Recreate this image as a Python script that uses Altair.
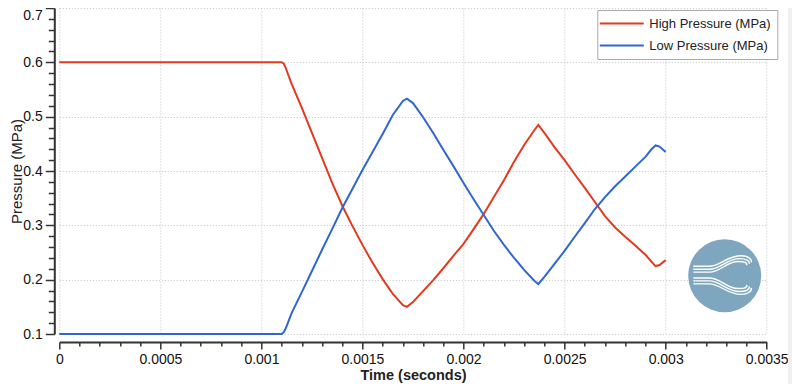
import altair as alt
import pandas as pd

# ---- data ----
time_s = [0, 0.00110, 0.00111, 0.00112, 0.00115, 0.00120, 0.00125, 0.00130, 0.00135,
          0.00140, 0.00145, 0.00150, 0.00155, 0.00160, 0.00165, 0.00170, 0.00172,
          0.00175, 0.00180, 0.00185, 0.00190, 0.00195, 0.00200, 0.00205, 0.00210,
          0.00215, 0.00220, 0.00225, 0.00230, 0.00235, 0.00237, 0.00240, 0.00245,
          0.00250, 0.00255, 0.00260, 0.00265, 0.00270, 0.00275, 0.00280, 0.00285,
          0.00290, 0.00293, 0.00295, 0.00297, 0.00300]
high_mpa = [0.600, 0.600, 0.598, 0.590, 0.560, 0.516, 0.470, 0.424, 0.378,
            0.336, 0.299, 0.264, 0.231, 0.201, 0.174, 0.153, 0.150,
            0.159, 0.179, 0.199, 0.221, 0.244, 0.266, 0.293, 0.321,
            0.352, 0.383, 0.417, 0.448, 0.475, 0.485, 0.470, 0.444,
            0.420, 0.394, 0.369, 0.343, 0.317, 0.296, 0.279, 0.263,
            0.246, 0.233, 0.225, 0.227, 0.236]
low_mpa = [0.100, 0.100, 0.103, 0.110, 0.139, 0.177, 0.216, 0.255, 0.293,
           0.332, 0.367, 0.402, 0.435, 0.468, 0.503, 0.529, 0.533,
           0.525, 0.499, 0.470, 0.439, 0.409, 0.378, 0.348, 0.319,
           0.290, 0.264, 0.240, 0.218, 0.198, 0.192, 0.205, 0.229,
           0.253, 0.279, 0.304, 0.330, 0.352, 0.372, 0.390, 0.408,
           0.426, 0.440, 0.447, 0.445, 0.435]
series_names = ["High Pressure (MPa)", "Low Pressure (MPa)"]
series_colors = ["#e33a1d", "#2f66cf"]

x_tick_values = [round(i * 0.0001, 4) for i in range(36)]
y_tick_values = [round(0.1 + i * 0.02, 2) for i in range(31)]

n = len(time_s)
df = pd.DataFrame({
    "t": time_s * 2,
    "p": high_mpa + low_mpa,
    "series": [series_names[0]] * n + [series_names[1]] * n,
    "idx": list(range(n)) * 2,
})

W, H = 707.4, 326
PAD_L, PAD_T, PAD_R, PAD_B = 51.3, 0, 25.3, 50

FONT = "Liberation Sans"
AX = "#333333"
major_x = "abs(datum.value*2000 - round(datum.value*2000)) < 1e-6"
major_y = "abs(datum.value*10 - round(datum.value*10)) < 1e-6"

x_axis = alt.Axis(
    values=x_tick_values,
    title="Time (seconds)",
    labelExpr=f"({major_x}) ? format(datum.value, '~g') : ''",
    labelFlush=False,
    labelOverlap=False,
    labelFont=FONT, labelFontSize=14, labelColor="#111111", labelPadding=3,
    titleFont=FONT, titleFontSize=14.5, titleFontWeight="bold", titleColor="#222222",
    titlePadding=2,
    tickSize={"condition": {"test": major_x, "value": 7}, "value": 4},
    tickColor=AX, tickWidth=1.5,
    domainColor=AX, domainWidth=2,
    grid=True, gridColor="#c4c4c4", gridDash=[1, 2], gridWidth=1,
    gridOpacity={"condition": {"test": major_x, "value": 1}, "value": 0},
    offset=8,
)
y_axis = alt.Axis(
    values=y_tick_values,
    title="Pressure (MPa)",
    labelExpr=f"({major_y}) ? format(datum.value, '~g') : ''",
    labelFlush=False,
    labelOverlap=False,
    labelBaseline={"condition": {"test": "datum.value > 0.69", "value": "top"}, "value": "middle"},
    labelFont=FONT, labelFontSize=14, labelColor="#111111", labelPadding=3,
    titleFont=FONT, titleFontSize=15, titleFontWeight="normal", titleColor="#222222",
    titlePadding=-2,
    tickSize={"condition": {"test": major_y, "value": 9}, "value": 6},
    tickColor=AX, tickWidth=1.5,
    domainColor=AX, domainWidth=2,
    grid=True, gridColor="#c4c4c4", gridDash=[1, 2], gridWidth=1,
    gridOpacity={"condition": {"test": major_y, "value": 1}, "value": 0},
    offset=5,
)

legend = alt.Legend(
    title=None, orient="none", legendX=538, legendY=2,
    symbolType="M-1.8,0H5.4", symbolSize=149, symbolStrokeWidth=2,
    labelFont=FONT, labelFontSize=13, labelColor="#222222", labelOffset=31,
    labelLimit=300,
    padding=6, rowPadding=7,
    strokeColor="#a8a8a8", fillColor="white", cornerRadius=0,
)

lines = alt.Chart(df).mark_line(strokeWidth=2, clip=False).encode(
    x=alt.X("t:Q", scale=alt.Scale(domain=[0, 0.0035], nice=False, zero=False), axis=x_axis),
    y=alt.Y("p:Q", scale=alt.Scale(domain=[0.1, 0.7], nice=False, zero=False), axis=y_axis),
    color=alt.Color("series:N", scale=alt.Scale(domain=series_names, range=series_colors),
                    legend=legend),
    order="idx:Q",
)

one = pd.DataFrame({"k": [0]})

# decorative logo (circle with flow lines)
top_lines = [(-0.26, 0.46, -0.55, 0.73, -0.37),
             (-0.18, 0.41, -0.47, 0.67, -0.33),
             (-0.10, 0.37, -0.39, 0.60, -0.29)]
segs = []
for y0, cx, cy, ex, ey in top_lines:
    for s in (1, -1):
        def fy(v):
            return v if s == 1 else -0.04 - v
        segs.append(
            f"M-0.86,{fy(y0):.3f}H-0.42C-0.12,{fy(y0):.3f} 0.05,{fy(cy):.3f} {cx},{fy(cy):.3f}"
            f"C{cx + 0.18:.3f},{fy(cy):.3f} {ex + 0.02:.3f},{fy(ey - 0.08):.3f} {ex},{fy(ey):.3f}"
        )
wave_path = "".join(segs)

LOGO_X, LOGO_Y, LOGO_SIZE = 665.4, 267.8, 5329
logo_circle = alt.Chart(one).mark_point(
    shape="circle", filled=True, color="#7fa6bf", opacity=1, size=LOGO_SIZE
).encode(x=alt.value(LOGO_X), y=alt.value(LOGO_Y))
logo_waves = alt.Chart(one).mark_point(
    shape=wave_path, filled=False, stroke="white", strokeWidth=1.4, opacity=1, size=LOGO_SIZE
).encode(x=alt.value(LOGO_X), y=alt.value(LOGO_Y))

side_strip = alt.Chart(one).mark_rect(color="#f0f0f0").encode(
    x=alt.value(W + 21.3), x2=alt.value(W + 40), y=alt.value(-10), y2=alt.value(H + 60)
)

chart = alt.layer(lines, logo_circle, logo_waves, side_strip).properties(
    width=W, height=H,
    autosize=alt.AutoSizeParams(type="none"),
    padding={"left": PAD_L, "top": PAD_T, "right": PAD_R, "bottom": PAD_B},
    background="white",
).configure_view(stroke=None)

chart.save("out.html", embed_options={"renderer": "svg", "actions": False})
